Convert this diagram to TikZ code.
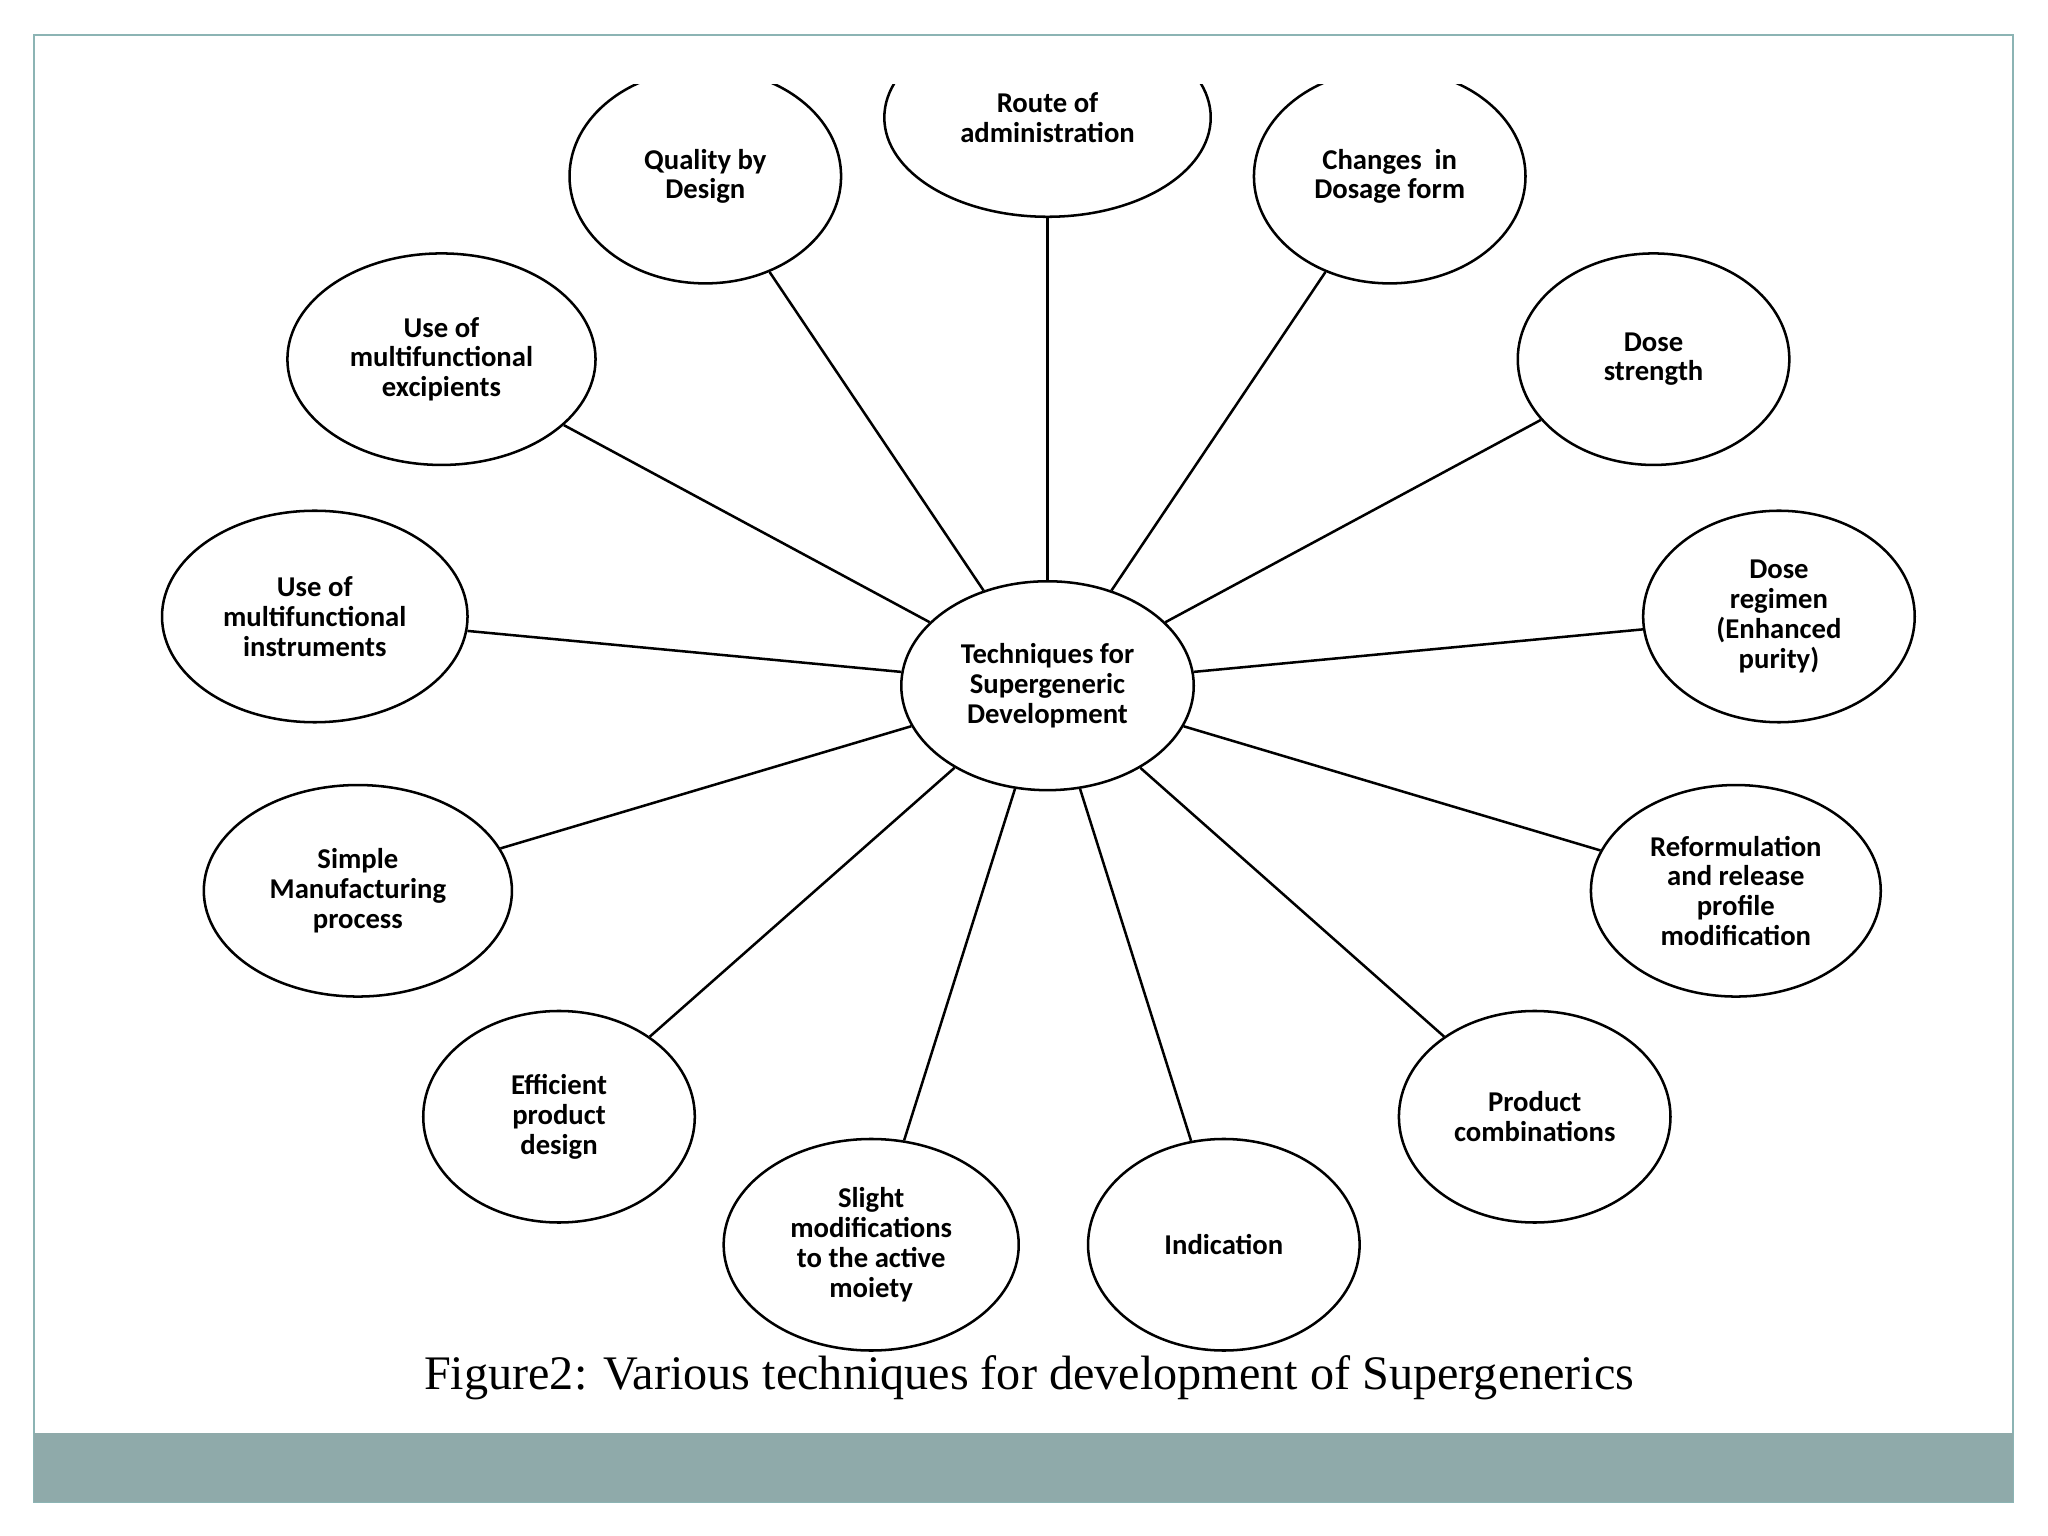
\documentclass[tikz,border=0pt]{standalone}
\usepackage{fontspec}
\setsansfont{Carlito}
\setmainfont{Liberation Serif}
\usetikzlibrary{shapes.geometric}
\begin{document}
\begin{tikzpicture}[x=0.02cm,y=-0.02cm,
  el/.style 2 args={ellipse,draw,line width=1.1pt,fill=white,inner sep=0pt,
    minimum width=#1*0.04cm,minimum height=#2*0.04cm,align=center,
    font=\sffamily\bfseries\fontsize{12.5}{13}\selectfont},
  ln/.style={line width=1.1pt}]
\useasboundingbox (0,0) rectangle (1568,1176);
\fill[white] (0,0) rectangle (1568,1176);
\draw[color=black!30!teal!45,line width=0.8pt] (26,27) rectangle (1541,1150);
\fill[color={rgb,255:red,143;green,170;blue,170}] (26,1097) rectangle (1541,1150);
\begin{scope}
\clip (26,65) rectangle (1541,1097);
\node[el={112}{80}] (c) at (802,525) {Techniques for\\Supergeneric\\Development};
\node[el={125}{76}] (a) at (802,90) {Route of\\administration};
\node[el={104}{82}] (b) at (540,135) {Quality by\\Design};
\node[el={104}{82}] (d) at (1064,135) {Changes~ in\\Dosage form};
\node[el={104}{81}] (e) at (1266,275) {Dose\\strength};
\node[el={118}{81}] (f) at (338,275) {Use of\\multifunctional\\excipients};
\node[el={117}{81}] (g) at (241,472) {Use of\\multifunctional\\instruments};
\node[el={104}{81}] (h) at (1362,472) {Dose\\regimen\\(Enhanced\\purity)};
\node[el={118}{81}] (i) at (274,682) {Simple\\Manufacturing\\process};
\node[el={111}{81}] (j) at (1329,682) {Reformulation\\and release\\profile\\modification};
\node[el={104}{81}] (k) at (428,855) {Efficient\\product\\design};
\node[el={104}{81}] (l) at (1175,855) {Product\\combinations};
\node[el={113}{81}] (m) at (667,953) {Slight\\modifications\\to the active\\moiety};
\node[el={104}{81}] (n) at (937,953) {Indication};
\foreach \t in {a,b,d,e,f,g,h,i,j,k,l,m,n} \draw[ln] (c) -- (\t);
\end{scope}
\node[font=\rmfamily\fontsize{21}{24}\selectfont] (cap) at (788,1055) {Figure2: Various techniques for development of Supergenerics};
\end{tikzpicture}
\end{document}
